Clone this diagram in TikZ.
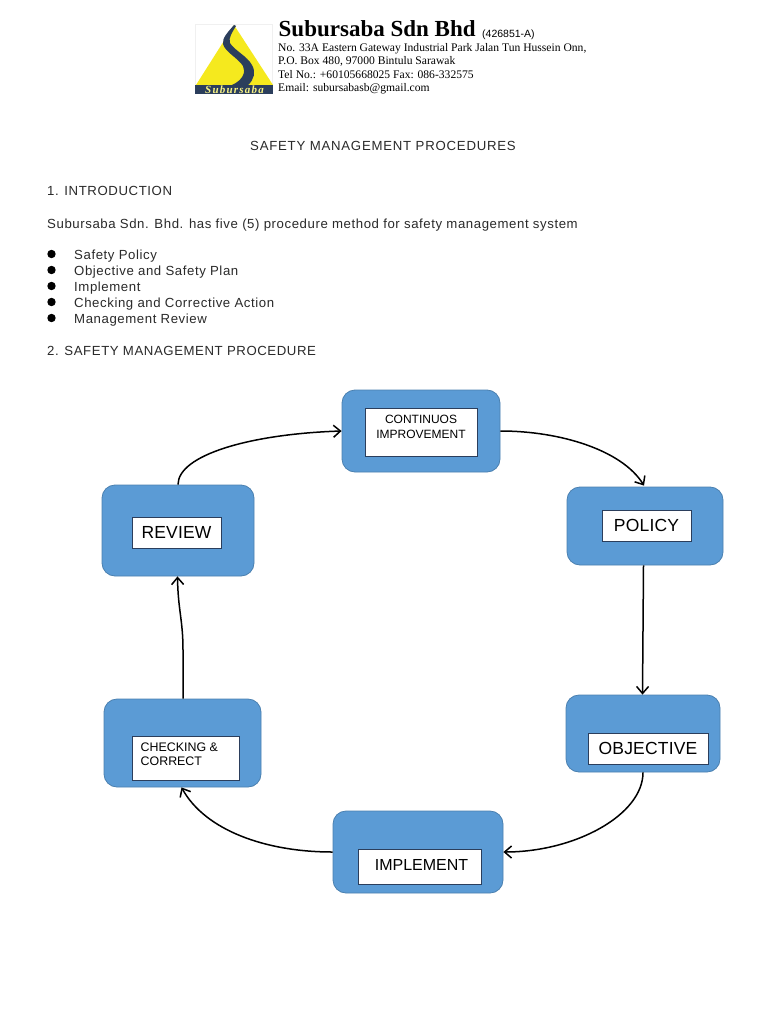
\documentclass[tikz,border=0pt]{standalone}
\usepackage{fontspec}
\setmainfont{Liberation Sans}
\newfontfamily\serifhead{Liberation Serif}
\usetikzlibrary{arrows.meta}
\definecolor{boxblue}{HTML}{5B9BD5}
\definecolor{boxedge}{HTML}{4A80B0}
\definecolor{roadblue}{HTML}{2B3E5C}
\definecolor{logoyellow}{HTML}{F5E91E}
\definecolor{inkgrey}{HTML}{2A2A2A}
\definecolor{logoframe}{HTML}{F0F0F0}
\tikzset{
  x=1pt,y=-1pt,
  outerbox/.style={draw=boxedge,line width=0.8pt,fill=boxblue,rounded corners=13pt,inner sep=0pt},
  innerbox/.style={draw=roadblue,line width=1pt,fill=white,inner sep=0pt,align=center,text=black},
  bodytext/.style={anchor=base west,inner sep=0pt,text=inkgrey,font=\fontsize{13.2}{16}\selectfont\addfontfeature{LetterSpace=4.4}},
  headtext/.style={anchor=base west,inner sep=0pt,text=black,font=\serifhead\fontsize{11.6}{14}\selectfont},
  flow/.style={draw=black,line width=1.5pt,-{Straight Barb[length=7pt,width=12pt,line width=1.5pt]}},
  bigl/.style={font=\fontsize{17.5}{20}\selectfont\addfontfeature{LetterSpace=1}},
  midl/.style={font=\fontsize{12}{15.5}\selectfont}
}
\begin{document}
\begin{tikzpicture}
\useasboundingbox (0,0) rectangle (768,1024);
\fill[white] (0,0) rectangle (768,1024);
% logo
\fill[logoframe] (195,24) rectangle (273,94);
\fill[white] (196,25) rectangle (272,85);
\fill[logoyellow] (234,25) -- (273,85) -- (196,85) -- cycle;
\fill[roadblue] (234,25) .. controls (228,32) and (222,38) .. (223,44) .. controls (225,52) and (238,58) .. (243,66) .. controls (246,72) and (243,80) .. (232,85) -- (248,85) .. controls (254,80) and (256,72) .. (252,65) .. controls (247,56) and (234,50) .. (230,43) .. controls (228,38) and (233,31) .. (236,26) -- cycle;
\fill[roadblue] (195,85) rectangle (273,94.5);
\node[inner sep=0pt,text=logoyellow!55!white,font=\serifhead\bfseries\itshape\fontsize{11}{11}\selectfont\addfontfeature{LetterSpace=11}] (logotext) at (234.5,89.5) {Subursaba};
% letterhead
\node[anchor=base west,inner sep=0pt,font=\serifhead\bfseries\fontsize{23}{25}\selectfont] (coname) at (278.5,37) {Subursaba Sdn Bhd};
\node[anchor=base west,inner sep=0pt,font=\fontsize{10.5}{12}\selectfont] (coreg) at (482,37.5) {(426851-A)};
\node[headtext] (h1) at (278,52) {No. 33A Eastern Gateway Industrial Park Jalan Tun Hussein Onn,};
\node[headtext] (h2) at (278,65) {P.O. Box 480, 97000 Bintulu Sarawak};
\node[headtext] (h3) at (278,79) {Tel No.: +60105668025 Fax: 086-332575};
\node[headtext] (h4) at (278,92) {Email: subursabasb@gmail.com};
% body text
\node[bodytext,font=\fontsize{13.2}{16}\selectfont\addfontfeature{LetterSpace=5.8}] (title) at (250,151) {SAFETY MANAGEMENT PROCEDURES};
\node[bodytext] (intro) at (47,196) {1. INTRODUCTION};
\node[bodytext] (para) at (47,229) {Subursaba Sdn. Bhd. has five (5) procedure method for safety management system};
\foreach \nm/\yy/\tx in {a/259/Safety Policy,b/275/Objective and Safety Plan,c/291/Implement,d/307/Checking and Corrective Action,e/323/Management Review}{
  \fill[black] (51.5,\yy-5) circle (4.2);
  \node[bodytext] (li\nm) at (74,\yy) {\tx};
}
\node[bodytext] (sec2) at (47,355) {2. SAFETY MANAGEMENT PROCEDURE};
% blocks
\node[outerbox,minimum width=158pt,minimum height=82pt] (cont) at (421,431) {};
\node[innerbox,midl,minimum width=112pt,minimum height=48pt,text depth=10pt] (conti) at (421,432) {CONTINUOS\\IMPROVEMENT};
\node[outerbox,minimum width=156pt,minimum height=78pt] (pol) at (645,526) {};
\node[innerbox,bigl,minimum width=89pt,minimum height=31pt] (poli) at (646.5,525.5) {POLICY};
\node[outerbox,minimum width=154pt,minimum height=77pt] (obj) at (643,733.5) {};
\node[innerbox,bigl,minimum width=120pt,minimum height=31pt] (obji) at (648,748.5) {OBJECTIVE};
\node[outerbox,minimum width=170pt,minimum height=82pt] (imp) at (418,852) {};
\node[innerbox,minimum width=123pt,minimum height=35pt] (impi) at (419.5,867) {};
\node[inner sep=0pt,font=\fontsize{16}{19}\selectfont,text=black] (impt) at (421.5,864.5) {IMPLEMENT};
\node[outerbox,minimum width=157pt,minimum height=88pt] (chk) at (182.5,743) {};
\node[innerbox,minimum width=107pt,minimum height=44pt] (chki) at (185.5,758) {};
\node[anchor=north west,inner sep=0pt,align=left,font=\fontsize{12.4}{14.3}\selectfont,text=black] (chkt) at (140.5,742.5) {CHECKING \&\\CORRECT};
\node[outerbox,minimum width=152pt,minimum height=91pt] (rev) at (178,530.5) {};
\node[innerbox,bigl,minimum width=89pt,minimum height=31pt] (revi) at (176.5,532.5) {REVIEW};
% connectors
\draw[flow] (cont.east) .. controls (560,431) and (622,450) .. ([xshift=-1pt,yshift=1pt]pol.north);
\draw[flow] ([xshift=-1.5pt]pol.south) -- ([xshift=-0.5pt]obj.north);
\draw[flow] (obj.south) .. controls (643,815) and (575,852) .. (imp.east);
\draw[flow] (imp.west) .. controls (265,852) and (205,830) .. ([xshift=-1pt]chk.south);
\draw[flow] ([xshift=0.5pt]chk.north) -- (183,650) .. controls (183,620) and (178,610) .. ([xshift=-0.5pt]rev.south);
\draw[flow] (rev.north) .. controls (178,455) and (250,434) .. (cont.west);
\end{tikzpicture}
\end{document}
